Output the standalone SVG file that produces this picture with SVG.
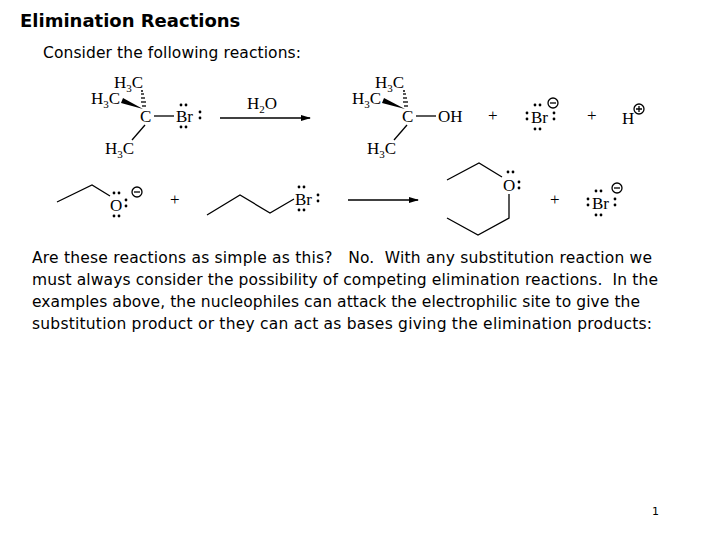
<svg xmlns="http://www.w3.org/2000/svg" width="720" height="540" viewBox="0 0 720 540">
<style>
.t{font-family:"DejaVu Sans",Verdana,sans-serif;fill:#000}
.c{font-family:"Liberation Serif","Times New Roman",serif;font-size:17px;fill:#000}
.s{font-size:11px}
.l{stroke:#000;stroke-width:1.3;fill:none}
.d{fill:#000}
</style>
<defs>
<marker id="ah" markerWidth="10" markerHeight="8" refX="9" refY="4" orient="auto" markerUnits="userSpaceOnUse"><path d="M0,1 L10,4 L0,7 Z"/></marker>
<g id="dots2h"><circle cx="0" cy="0" r="1.4"/><circle cx="5" cy="0" r="1.4"/></g>
<g id="dots2v"><circle cx="0" cy="0" r="1.4"/><circle cx="0" cy="6" r="1.4"/></g>
</defs>
<rect width="720" height="540" fill="#fff"/>
<text class="t" x="20" y="27" font-size="18" font-weight="bold">Elimination Reactions</text>
<text class="t" x="43" y="58" font-size="15.5" textLength="258">Consider the following reactions:</text>

<g id="r1-reactant">
<text class="c" x="114" y="88">H<tspan class="s" dy="4">3</tspan><tspan dy="-4">C</tspan></text>
<text class="c" x="91" y="104">H<tspan class="s" dy="4">3</tspan><tspan dy="-4">C</tspan></text>
<text class="c" x="140" y="122">C</text>
<text class="c" x="176" y="122">Br</text>
<text class="c" x="105" y="154">H<tspan class="s" dy="4">3</tspan><tspan dy="-4">C</tspan></text>
<line class="l" x1="154" y1="116" x2="174" y2="116"/>
<path d="M143,109 L123,98 L121,103 Z" class="d"/>
<g class="l" stroke-width="1"><line x1="142" y1="106" x2="146" y2="106"/><line x1="141" y1="102" x2="146" y2="102"/><line x1="141" y1="98" x2="145" y2="98"/><line x1="141" y1="94" x2="144" y2="94"/><line x1="141" y1="91" x2="143" y2="91"/></g>
<line class="l" x1="145" y1="125" x2="132" y2="140"/>
<use href="#dots2h" x="181" y="105"/><use href="#dots2h" x="181" y="127"/><use href="#dots2v" x="200" y="112"/>
</g>
<g id="r1-arrow">
<text class="c" x="247" y="109">H<tspan class="s" dy="4">2</tspan><tspan dy="-4">O</tspan></text>
</g>
<g id="r1-product">
<text class="c" x="375" y="88">H<tspan class="s" dy="4">3</tspan><tspan dy="-4">C</tspan></text>
<text class="c" x="352" y="104">H<tspan class="s" dy="4">3</tspan><tspan dy="-4">C</tspan></text>
<text class="c" x="402" y="122">C</text>
<text class="c" x="438" y="122">OH</text>
<text class="c" x="367" y="154">H<tspan class="s" dy="4">3</tspan><tspan dy="-4">C</tspan></text>
<line class="l" x1="416" y1="116" x2="436" y2="116"/>
<path d="M405,109 L384,98 L382,103 Z" class="d"/>
<g class="l" stroke-width="1"><line x1="404" y1="106" x2="408" y2="106"/><line x1="403" y1="102" x2="408" y2="102"/><line x1="403" y1="98" x2="407" y2="98"/><line x1="403" y1="94" x2="406" y2="94"/><line x1="403" y1="91" x2="405" y2="91"/></g>
<line class="l" x1="407" y1="125" x2="394" y2="140"/>
</g>
<g id="r1-br">
<text class="c" x="488" y="121">+</text>
<text class="c" x="531" y="123">Br</text>
<use href="#dots2v" x="527" y="113"/><use href="#dots2v" x="554" y="113"/><use href="#dots2h" x="535" y="105"/><use href="#dots2h" x="535" y="129"/>
<circle cx="553" cy="103" r="5" class="l" stroke-width="1"/><line class="l" stroke-width="1" x1="550" y1="103" x2="556" y2="103"/>
</g>
<g id="r1-h">
<text class="c" x="587" y="121">+</text>
<text class="c" x="622" y="124">H</text>
<circle cx="639" cy="109" r="5" class="l" stroke-width="1"/><path class="l" stroke-width="1" d="M636,109 H642 M639,106 V112"/>
</g>

<g id="ethoxide">
<polyline class="l" points="57,202 92,185 110,196"/>
<text class="c" x="110" y="211">O</text>
<use href="#dots2h" x="114" y="193"/><use href="#dots2h" x="114" y="216"/><use href="#dots2v" x="126" y="200"/>
<circle cx="137" cy="192" r="5" class="l" stroke-width="1"/><line class="l" stroke-width="1" x1="134" y1="192" x2="140" y2="192"/>
</g>
<text class="c" x="170" y="205">+</text>
<g id="propylbromide">
<polyline class="l" points="207,215 240,195 270,213 294,199"/>
<text class="c" x="295" y="205">Br</text>
<use href="#dots2h" x="299" y="187"/><use href="#dots2h" x="299" y="210"/><use href="#dots2v" x="318" y="195"/>
</g>
<g id="ether">
<polyline class="l" points="447,180 479,163 502,177"/>
<text class="c" x="503" y="191">O</text>
<use href="#dots2h" x="508" y="172"/><use href="#dots2v" x="519" y="182"/>
<polyline class="l" points="509,194 509,218 478,235 447,218"/>
</g>
<text class="c" x="550" y="205">+</text>
<g id="r2-br">
<text class="c" x="592" y="209">Br</text>
<use href="#dots2v" x="588" y="199"/><use href="#dots2v" x="615" y="199"/><use href="#dots2h" x="596" y="191"/><use href="#dots2h" x="596" y="215"/>
<circle cx="617" cy="188" r="5" class="l" stroke-width="1"/><line class="l" stroke-width="1" x1="614" y1="188" x2="620" y2="188"/>
</g>

<g id="connectors">
<line class="l" x1="220" y1="118" x2="310" y2="118" marker-end="url(#ah)"/>
<line class="l" x1="348" y1="200" x2="418" y2="200" marker-end="url(#ah)"/>
</g>

<g class="t" font-size="15.5">
<text xml:space="preserve" x="32" y="263" textLength="620">Are these reactions as simple as this?   No.  With any substitution reaction we</text>
<text xml:space="preserve" x="32" y="285" textLength="626">must always consider the possibility of competing elimination reactions.  In the</text>
<text x="32" y="307" textLength="608">examples above, the nucleophiles can attack the electrophilic site to give the</text>
<text x="32" y="329" textLength="620">substitution product or they can act as bases giving the elimination products:</text>
</g>
<text class="t" x="652" y="515" font-size="11">1</text>
</svg>
